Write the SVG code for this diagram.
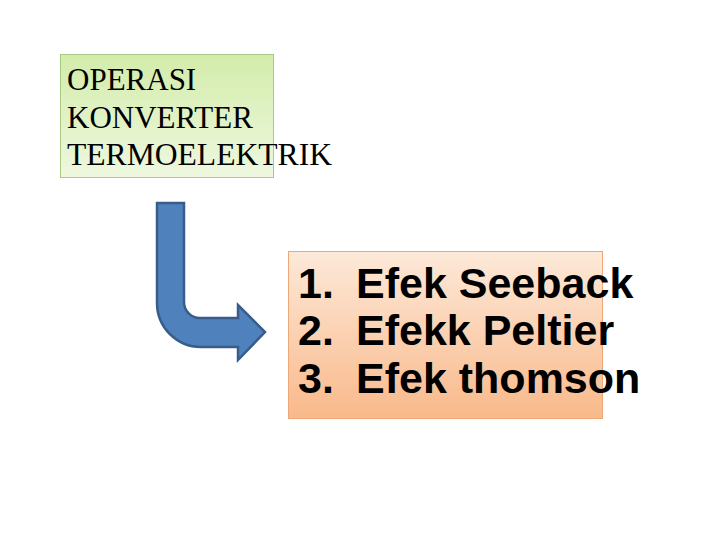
<svg xmlns="http://www.w3.org/2000/svg" width="720" height="540" viewBox="0 0 720 540">
<defs>
<linearGradient id="gGreen" x1="0" y1="0" x2="0" y2="1">
<stop offset="0" stop-color="#d3ecaa"/>
<stop offset="1" stop-color="#eef8e0"/>
</linearGradient>
<linearGradient id="gOrange" x1="0" y1="0" x2="0" y2="1">
<stop offset="0" stop-color="#fde9d9"/>
<stop offset="1" stop-color="#f9b98a"/>
</linearGradient>
<style>
.t1{font-family:"Liberation Serif","Times New Roman",serif;font-size:31px;fill:#000}
.t2{font-family:"Liberation Sans",Arial,sans-serif;font-size:43px;font-weight:bold;fill:#000}
</style>
</defs>
<rect width="720" height="540" fill="#ffffff"/>
<g id="node-operasi">
<rect x="60.5" y="54.5" width="213" height="123" fill="url(#gGreen)" stroke="#a9cc84" stroke-width="1"/>
<text class="t1" x="67" y="90">OPERASI</text>
<text class="t1" x="67" y="128">KONVERTER</text>
<text class="t1" x="67" y="165" textLength="265" lengthAdjust="spacingAndGlyphs">TERMOELEKTRIK</text>
</g>
<g id="connectors">
<path d="M157,203 L184,203 L184,302 A16,16 0 0 0 200,318 L238,318 L238,305 L265,332 L238,360 L238,347 L201,347 A44,44 0 0 1 157,303 Z" fill="#4f81bd" stroke="#385d8a" stroke-width="2.5" stroke-linejoin="miter"/>
</g>
<g id="node-efek">
<rect x="288.5" y="251.5" width="314" height="167" fill="url(#gOrange)" stroke="#eca877" stroke-width="1"/>
<text class="t2" x="298" y="298">1.</text>
<text class="t2" x="356" y="298">Efek Seeback</text>
<text class="t2" x="298" y="345">2.</text>
<text class="t2" x="356" y="345">Efekk Peltier</text>
<text class="t2" x="298" y="393">3.</text>
<text class="t2" x="356" y="393">Efek thomson</text>
</g>
</svg>
